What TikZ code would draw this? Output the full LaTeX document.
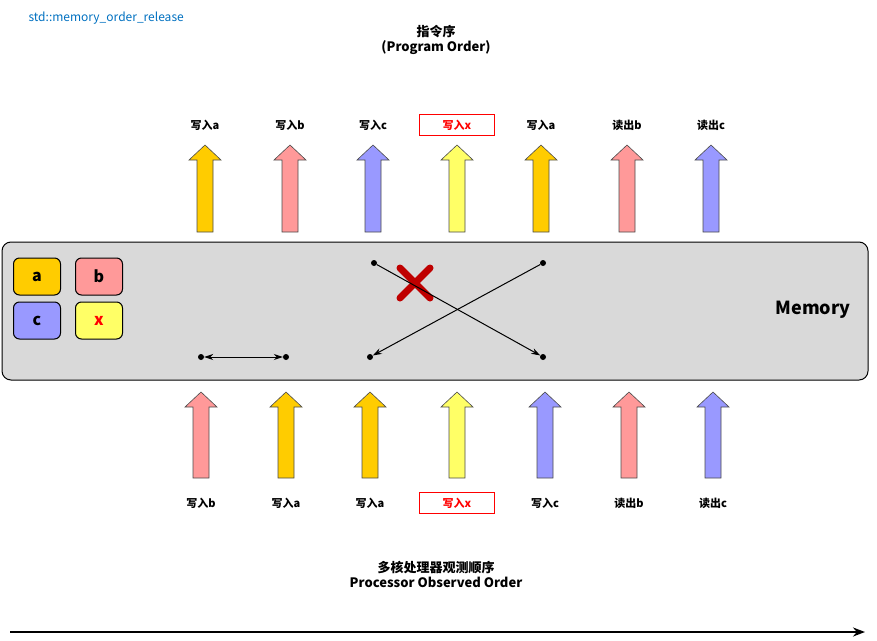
\documentclass[tikz,border=0pt]{standalone}
\usepackage{fontspec}
\setmainfont{Noto Sans CJK SC}
\usetikzlibrary{arrows.meta}
\definecolor{cA}{HTML}{FFCC00}
\definecolor{cB}{HTML}{FF9999}
\definecolor{cC}{HTML}{9999FF}
\definecolor{cX}{HTML}{FFFF66}
\definecolor{mem}{HTML}{D9D9D9}
\definecolor{blu}{HTML}{0070C0}
% down arrow: x, ytop, ybottom, color
\newcommand\bdown[4]{\filldraw[fill=#4,draw=black!70,line width=0.6pt]
 (#1-8,#2)--(#1+8,#2)--(#1+8,#3-15)--(#1+16,#3-15)--(#1,#3)--(#1-16,#3-15)--(#1-8,#3-15)--cycle;}
\newcommand\bup[4]{\filldraw[fill=#4,draw=black!70,line width=0.6pt]
 (#1-8,#3)--(#1+8,#3)--(#1+8,#2+15)--(#1+16,#2+15)--(#1,#2)--(#1-16,#2+15)--(#1-8,#2+15)--cycle;}
\begin{document}
\begin{tikzpicture}[x=1pt,y=-1pt,
 lbl/.style={font=\bfseries\fontsize{11}{13}\selectfont},
 key/.style={draw,line width=1pt,rounded corners=6pt,minimum width=47pt,minimum height=37pt,font=\bfseries\fontsize{16}{18}\selectfont},
 dot/.style={circle,fill,inner sep=0pt,minimum size=6pt},
 arr/.style={-{Stealth[length=9pt,width=6pt]},line width=1pt}]
\useasboundingbox (0,0) rectangle (877,640);
\node[anchor=west,text=blu,font=\fontsize{12}{14}\selectfont] (t) at (25,18) {std::memory\_order\_release};
\node[lbl,font=\bfseries\fontsize{13}{15}\selectfont,align=center] (po) at (436,40) {指令序\\(Program Order)};
\node[lbl,font=\bfseries\fontsize{13}{15}\selectfont,align=center] (oo) at (436,574) {多核处理器观测顺序\\Processor Observed Order};
\draw[-{Stealth[length=12pt,width=9pt]},line width=2.5pt] (10,632) -- (865,632);
% memory
\node[draw,line width=1pt,fill=mem,rounded corners=9pt,minimum width=866pt,minimum height=138pt] (m) at (435,311) {};
\node[font=\bfseries\fontsize{18}{20}\selectfont] (ml) at (813,310) {Memory};
\node[key,fill=cA] (ka) at (37,276.5) {a};
\node[key,fill=cB] (kb) at (99,276.5) {b};
\node[key,fill=cC] (kc) at (37,320.5) {c};
\node[key,fill=cX,text=red] (kx) at (99,320.5) {x};
\node[dot] (d1) at (201,357) {};
\node[dot] (d2) at (286,357) {};
\node[dot] (d3) at (374,263) {};
\node[dot] (d4) at (543,263) {};
\node[dot] (d5) at (370,357) {};
\node[dot] (d6) at (543,357) {};
\draw[arr,{Stealth[length=9pt,width=6pt]}-{Stealth[length=9pt,width=6pt]}] (d1) -- (d2);
\draw[line width=7pt,red!75!black,line cap=round] (400,268)--(430,298) (430,268)--(400,298);
\draw[arr] (d3) -- (d6);
\draw[arr] (d4) -- (d5);
% top
\foreach \x/\t/\c/\d in {205/写入a/cA/d,290/写入b/cB/d,373/写入c/cC/d,457/写入x/cX/d,541/写入a/cA/d,627/读出b/cB/u,711/读出c/cC/u}{
 \ifx\d d\bdown{\x}{145}{232}{\c}\else\bup{\x}{145}{232}{\c}\fi}
\foreach \x/\t/\c/\d in {201/写入b/cB/u,286/写入a/cA/u,370/写入a/cA/u,457/写入x/cX/u,545/写入c/cC/u,629/读出b/cB/d,713/读出c/cC/d}{
 \ifx\d d\bdown{\x}{392}{478}{\c}\else\bup{\x}{392}{478}{\c}\fi}
\node[lbl] (t1) at (205,125) {写入a};
\node[lbl] (t2) at (290,125) {写入b};
\node[lbl] (t3) at (373,125) {写入c};
\node[lbl,draw=red,text=red,minimum width=75pt,minimum height=21pt,inner sep=1pt] (t4) at (457,125) {写入x};
\node[lbl] (t5) at (541,125) {写入a};
\node[lbl] (t6) at (627,125) {读出b};
\node[lbl] (t7) at (711,125) {读出c};
\node[lbl] (b1) at (201,503) {写入b};
\node[lbl] (b2) at (286,503) {写入a};
\node[lbl] (b3) at (370,503) {写入a};
\node[lbl,draw=red,text=red,minimum width=75pt,minimum height=21pt,inner sep=1pt] (b4) at (457,503) {写入x};
\node[lbl] (b5) at (545,503) {写入c};
\node[lbl] (b6) at (629,503) {读出b};
\node[lbl] (b7) at (713,503) {读出c};
\end{tikzpicture}
\end{document}
